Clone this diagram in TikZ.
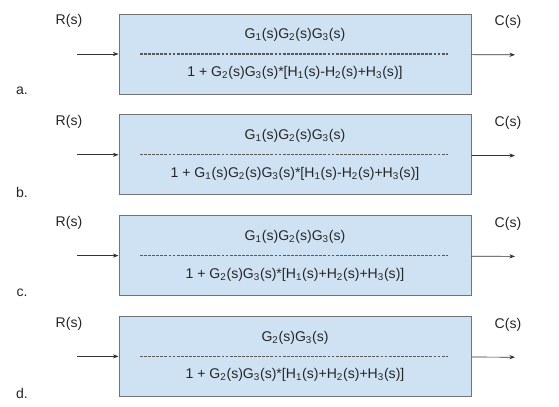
\documentclass[tikz,border=0pt]{standalone}
\usepackage{fontspec}
\setmainfont{Liberation Sans}
\usetikzlibrary{arrows.meta}
\definecolor{boxblue}{HTML}{CFE2F3}
\definecolor{boxedge}{HTML}{737373}
\newcommand{\idx}[1]{\textsubscript{#1}}

\begin{document}
\begin{tikzpicture}[
    tf/.style={draw=boxedge, fill=boxblue, line width=0.7pt,
        minimum width=8.8cm, minimum height=2cm, inner sep=0pt},
    sig/.style={-{Stealth[length=4pt,width=3pt]}, black!80, line width=0.5pt},
    frac/.style={dash pattern=on 2pt off 0.9pt, black!65, line width=0.8pt},
    txt/.style={text=black!85, font=\fontsize{10}{12}\selectfont}
]
    \useasboundingbox (0,0) rectangle (13.975,10.15);

    % a. block
    \node[tf] (boxa) at (7.375,8.8) {};
    \node[txt] (numa) at (7.375,9.27) {G\idx1(s)G\idx2(s)G\idx3(s)};
    \draw[frac] (3.5,8.8) -- (11.2,8.8);
    \node[txt] (dena) at (7.375,8.33) {1 + G\idx2(s)G\idx3(s)*[H\idx1(s)-H\idx2(s)+H\idx3(s)]};
    \coordinate (ina) at (1.925,8.8);
    \coordinate (outa) at (12.875,8.78);
    \draw[sig] (ina) -- (boxa);
    \draw[sig] (boxa) -- (outa);
    \node[txt] (ra) at (1.725,9.62) {R(s)};
    \node[txt] (ca) at (12.7,9.6) {C(s)};
    \node[txt] (laba) at (0.55,7.87) {a.};

    % b. block
    \node[tf] (boxb) at (7.375,6.28) {};
    \node[txt] (numb) at (7.375,6.75) {G\idx1(s)G\idx2(s)G\idx3(s)};
    \draw[frac] (3.5,6.28) -- (11.2,6.28);
    \node[txt] (denb) at (7.375,5.81) {1 + G\idx1(s)G\idx2(s)G\idx3(s)*[H\idx1(s)-H\idx2(s)+H\idx3(s)]};
    \coordinate (inb) at (1.925,6.28);
    \coordinate (outb) at (12.875,6.26);
    \draw[sig] (inb) -- (boxb);
    \draw[sig] (boxb) -- (outb);
    \node[txt] (rb) at (1.725,7.1) {R(s)};
    \node[txt] (cb) at (12.7,7.08) {C(s)};
    \node[txt] (labb) at (0.55,5.35) {b.};

    % c. block
    \node[tf] (boxc) at (7.375,3.76) {};
    \node[txt] (numc) at (7.375,4.23) {G\idx1(s)G\idx2(s)G\idx3(s)};
    \draw[frac] (3.5,3.76) -- (11.2,3.76);
    \node[txt] (denc) at (7.375,3.29) {1 + G\idx2(s)G\idx3(s)*[H\idx1(s)+H\idx2(s)+H\idx3(s)]};
    \coordinate (inc) at (1.925,3.76);
    \coordinate (outc) at (12.875,3.74);
    \draw[sig] (inc) -- (boxc);
    \draw[sig] (boxc) -- (outc);
    \node[txt] (rc) at (1.725,4.58) {R(s)};
    \node[txt] (cc) at (12.7,4.56) {C(s)};
    \node[txt] (labc) at (0.55,2.83) {c.};

    % d. block
    \node[tf] (boxd) at (7.375,1.24) {};
    \node[txt] (numd) at (7.375,1.71) {G\idx2(s)G\idx3(s)};
    \draw[frac] (3.5,1.24) -- (11.2,1.24);
    \node[txt] (dend) at (7.375,0.77) {1 + G\idx2(s)G\idx3(s)*[H\idx1(s)+H\idx2(s)+H\idx3(s)]};
    \coordinate (ind) at (1.925,1.24);
    \coordinate (outd) at (12.875,1.22);
    \draw[sig] (ind) -- (boxd);
    \draw[sig] (boxd) -- (outd);
    \node[txt] (rd) at (1.725,2.06) {R(s)};
    \node[txt] (cd) at (12.7,2.04) {C(s)};
    \node[txt] (labd) at (0.55,0.31) {d.};
\end{tikzpicture}
\end{document}
